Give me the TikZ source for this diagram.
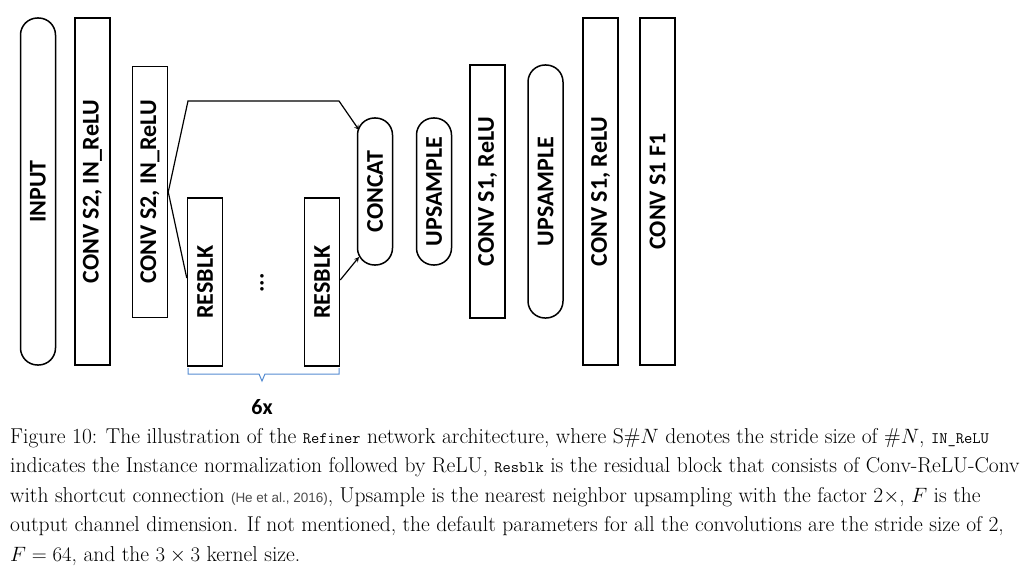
\documentclass[tikz,border=0pt]{standalone}
\usepackage{fontspec}
\usepackage{amssymb}
\newfontfamily\lblfont{Carlito}
\newfontfamily\capfont{Latin Modern Roman}
\newfontfamily\citfont{Liberation Sans}
\begin{document}
\begin{tikzpicture}[x=1pt,y=-1pt,
 blk/.style={draw,line width=1.5pt,rectangle,minimum width=35pt,inner sep=0pt},
 pill/.style={blk,rounded corners=17pt},
 txt/.style={rotate=90,font=\lblfont\bfseries\fontsize{24}{24}\selectfont},
 ar/.style={->,line width=1.2pt,>=stealth},
 cl/.style={anchor=base west,inner sep=0pt,font=\capfont\fontsize{21.5}{21.5}\selectfont}]
\useasboundingbox (0,0) rectangle (1035,575);
\node[pill,minimum height=347pt] (in) at (38,191.5) {};
\node[txt] at (in) {INPUT};
\node[blk,minimum height=347pt] (c1) at (92.5,191.5) {};
\node[txt] at (c1) {CONV S2, IN\_ReLU};
\node[blk,minimum height=251pt] (c2) at (150,192) {};
\node[txt] at (c2) {CONV S2, IN\_ReLU};
\node[blk,minimum height=168pt] (r1) at (205,282) {};
\node[txt] at (r1) {RESBLK};
\node[txt] (dots) at (262,283) {...};
\node[blk,minimum height=168pt] (r2) at (322,282) {};
\node[txt] at (r2) {RESBLK};
\node[pill,minimum height=147pt] (cc) at (375,191.5) {};
\node[txt] at (cc) {CONCAT};
\node[pill,minimum height=147pt] (u1) at (434,191.5) {};
\node[txt] at (u1) {UPSAMPLE};
\node[blk,minimum height=253pt] (c3) at (487.5,191.5) {};
\node[txt] at (c3) {CONV S1, ReLU};
\node[pill,minimum height=253pt] (u2) at (545.5,191.5) {};
\node[txt] at (u2) {UPSAMPLE};
\node[blk,minimum height=347pt] (c4) at (600.5,191.5) {};
\node[txt] at (c4) {CONV S1, ReLU};
\node[blk,minimum height=347pt] (c5) at (657.5,191.5) {};
\node[txt] at (c5) {CONV S1 F1};
\coordinate (sp) at (c2.east);
\draw[line width=1.2pt] (sp) -- (r1.west |- 0,278);
\draw[ar] (sp) -- (188,101) -- (339,101) -- (359,130);
\draw[ar] (r2.east |- 0,280) -- (359,257);
\draw[draw=cyan!50!blue!70,line width=1pt] (188,368) -- (188,374) -- (259,374) -- (262,381) -- (265,374) -- (339,374) -- (339,368);
\node[font=\lblfont\bfseries\fontsize{22}{22}\selectfont] (six) at (262,407) {6x};
\node[cl] (l1) at (10,443) {Figure 10: The illustration of the {\ttfamily\fontsize{16}{16}\selectfont Refiner} network architecture, where S$\#N$ denotes the stride size of $\#N$, {\ttfamily\fontsize{16}{16}\selectfont IN\_ReLU}};
\node[cl] (l2) at (10,472) {indicates the Instance normalization followed by ReLU, {\ttfamily\fontsize{16}{16}\selectfont Resblk} is the residual block that consists of Conv-ReLU-Conv};
\node[cl] (l3) at (10,502) {with shortcut connection {\citfont\fontsize{13.5}{13.5}\selectfont\color{black!70} (He et al., 2016)}, Upsample is the nearest neighbor upsampling with the factor 2$\times$, $F$ is the};
\node[cl] (l4) at (10,531) {output channel dimension. If not mentioned, the default parameters for all the convolutions are the stride size of 2,};
\node[cl] (l5) at (10,561) {$F=64$, and the $3\times3$ kernel size.};
\end{tikzpicture}
\end{document}
